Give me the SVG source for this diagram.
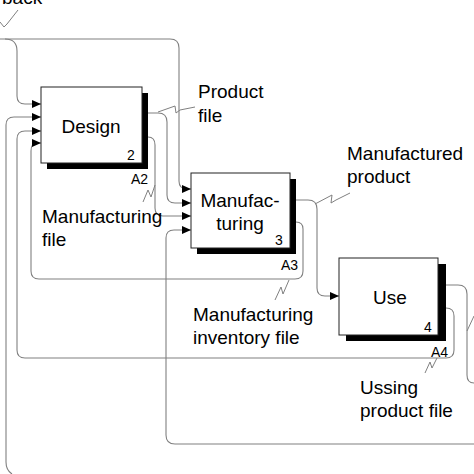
<svg xmlns="http://www.w3.org/2000/svg" width="474" height="474" viewBox="0 0 474 474">
<defs>
<marker id="arr" markerUnits="userSpaceOnUse" markerWidth="9" markerHeight="8" refX="9" refY="4" orient="auto">
<path d="M0,0 L9,4 L0,8 z" fill="#000"/>
</marker>
<style>
.c{fill:none;stroke:#808080;stroke-width:1.1}
.a{marker-end:url(#arr)}
.ld{fill:none;stroke:#808080;stroke-width:1}
.box{fill:#fff;stroke:#222;stroke-width:1}
.sh{fill:#000}
text{font-family:"Liberation Sans",Arial,sans-serif;fill:#000}
.t{font-size:19px}
.n{font-size:14px}
.m{text-anchor:middle}
</style>
</defs>
<rect width="474" height="474" fill="#fff"/>
<g id="connectors">
<path class="c a" d="M0,39 H170 Q179,39 179,48 V181 Q179,189 187,189 H191"/>
<path class="c a" d="M5,39 Q17,39 17,51 V96 Q17,104 25,104 H41"/>
<path class="c a" d="M12,474 Q6,470 6,462 V125 Q6,117 14,117 H41"/>
<path class="c a" d="M446,308 Q454,308 454,316 V350 Q454,358 446,358 H25 Q17,358 17,350 V139 Q17,131 25,131 H41"/>
<path class="c a" d="M296,222 Q303,222 303,229 V271 Q303,279 295,279 H39 Q31,279 31,271 V151 Q31,143 37,143 H41"/>
<path class="c a" d="M148,113 H158 Q167,113 167,122 V195 Q167,203 175,203 H191"/>
<path class="c a" d="M148,137 Q155,137 155,145 V208 Q155,216 163,216 H191"/>
<path class="c a" d="M474,444 H175 Q166,444 166,435 V238 Q166,230 174,230 H191"/>
<path class="c a" d="M296,200 H308 Q317,200 317,209 V288 Q317,296 325,296 H339"/>
<path class="c" d="M446,285 H458 Q467,285 467,294 V375 Q467,383 474,383"/>
<path class="ld" d="M0,22 L4,27 L7,24 L18,10"/>
<path class="ld" d="M158,112 L175,106 L176,113 L180,110 L195,107"/>
<path class="ld" d="M143,202 L148,190 L151,197 L155,185"/>
<path class="ld" d="M315,204 L332,195 L331,203 L336,200 L350,193"/>
<path class="ld" d="M275,300 L281,287 L283,294 L289,280"/>
<path class="ld" d="M425,373 L430,362 L432,368 L437,358"/>
<path class="ld" d="M467,331 L474,316"/>
</g>
<g id="design">
<rect class="sh" x="47" y="93" width="101" height="76"/>
<rect class="box" x="41" y="87" width="101" height="76"/>
<text class="t m" x="91" y="133">Design</text>
<text class="n" x="127" y="160">2</text>
<text class="n" x="131" y="184">A2</text>
</g>
<g id="manufacturing">
<rect class="sh" x="197" y="179" width="99" height="75"/>
<rect class="box" x="191" y="173" width="99" height="75"/>
<text class="t m" x="240" y="207">Manufac-</text>
<text class="t m" x="240" y="230">turing</text>
<text class="n" x="275" y="245">3</text>
<text class="n" x="281" y="270">A3</text>
</g>
<g id="use">
<rect class="sh" x="346" y="264" width="100" height="77"/>
<rect class="box" x="339" y="258" width="99" height="77"/>
<text class="t m" x="390" y="304">Use</text>
<text class="n" x="424" y="332">4</text>
<text class="n" x="431" y="357">A4</text>
</g>
<g id="labels">
<text class="t" x="2" y="4">back</text>
<text class="t" x="198" y="98">Product</text>
<text class="t" x="198" y="122">file</text>
<text class="t" x="42" y="223">Manufacturing</text>
<text class="t" x="42" y="246">file</text>
<text class="t" x="347" y="160">Manufactured</text>
<text class="t" x="347" y="183">product</text>
<text class="t" x="193" y="321">Manufacturing</text>
<text class="t" x="193" y="344">inventory file</text>
<text class="t" x="360" y="394">Ussing</text>
<text class="t" x="360" y="417">product file</text>
</g>
</svg>
